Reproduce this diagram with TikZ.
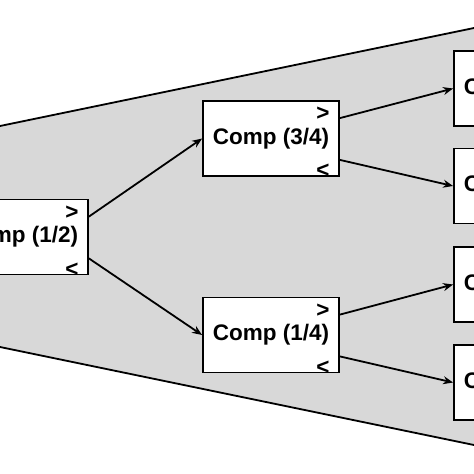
\documentclass[tikz,border=0pt]{standalone}
\usepackage{fontspec}
\setmainfont{Liberation Sans}
\usetikzlibrary{calc,arrows.meta}
\definecolor{bggray}{RGB}{216,216,216}
\tikzset{
  compbox/.style={draw=black, line width=1.8pt, fill=white, minimum width=136pt, minimum height=75pt, inner sep=0pt, font=\fontsize{22.5}{26}\selectfont\bfseries},
  sym/.style={inner sep=0pt, font=\fontsize{22.5}{26}\selectfont\bfseries},
  conn/.style={line width=1.8pt, -{Stealth[length=10pt,width=8pt]}},
  edge/.style={line width=1.8pt}
}
\begin{document}
\begin{tikzpicture}[x=1pt,y=-1pt]
\useasboundingbox (0,0) rectangle (474,474);
\coordinate (tl) at (0,126);
\coordinate (tr) at (474,28);
\coordinate (br) at (474,445);
\coordinate (bl) at (0,347);
\fill[bggray] (tl) -- (tr) -- (br) -- (bl) -- cycle;
\draw[edge] (tl) -- (tr);
\draw[edge] (bl) -- (br);

\node[compbox] (c12) at (20,237) {Comp (1/2)};
\node[compbox] (c34) at (271,138.5) {Comp (3/4)};
\node[compbox] (c14) at (271,335) {Comp (1/4)};
\node[compbox] (r1) at (522,88.5) {Comp (7/8)};
\node[compbox] (r2) at (522,186) {Comp (5/8)};
\node[compbox] (r3) at (522,284.5) {Comp (3/8)};
\node[compbox] (r4) at (522,382.5) {Comp (1/8)};

\foreach \b in {c12,c34,c14}{
  \node[sym] (\b-gt) at ($(\b.north east)+(-17,14)$) {>};
  \node[sym] (\b-lt) at ($(\b.south east)+(-17,-6)$) {<};
  \coordinate (\b-o1) at ($(\b.north east)+(0,18)$);
  \coordinate (\b-o2) at ($(\b.south east)+(0,-17)$);
}

\draw[conn] (c12-o1) -- (c34.west);
\draw[conn] (c12-o2) -- (c14.west);
\draw[conn] (c34-o1) -- (r1.west);
\draw[conn] (c34-o2) -- (r2.west);
\draw[conn] (c14-o1) -- (r3.west);
\draw[conn] (c14-o2) -- (r4.west);
\end{tikzpicture}
\end{document}
